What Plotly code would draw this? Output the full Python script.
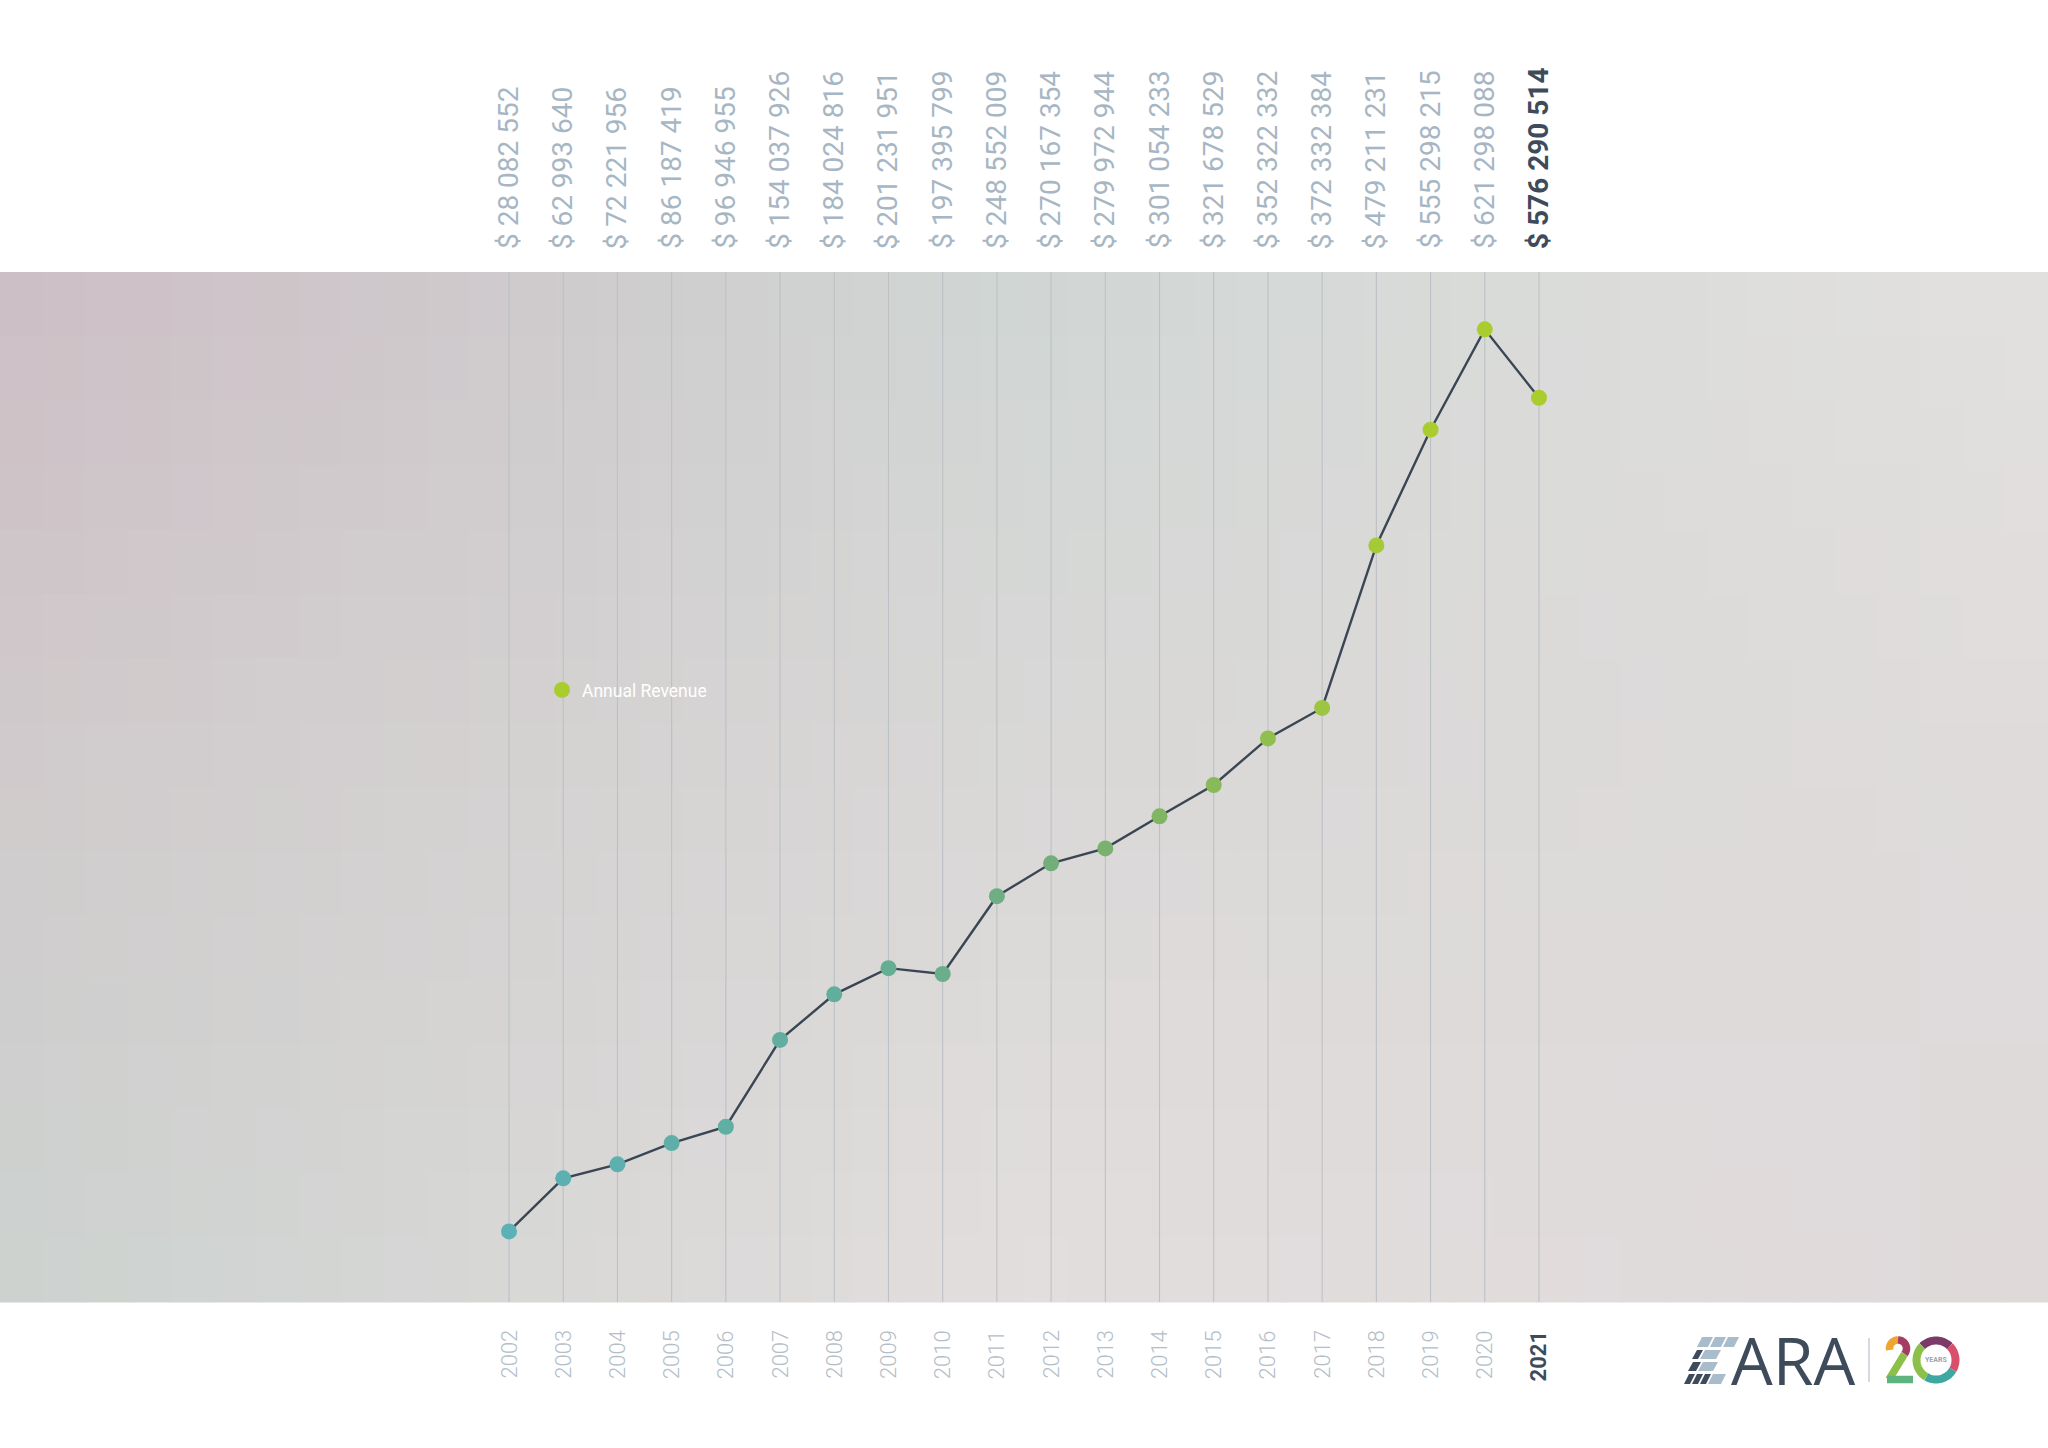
import math
import plotly.graph_objects as go

# ---------------- data ----------------
years = [2002, 2003, 2004, 2005, 2006, 2007, 2008, 2009, 2010, 2011,
         2012, 2013, 2014, 2015, 2016, 2017, 2018, 2019, 2020, 2021]
revenue = [28082552, 62993640, 72221956, 86187419, 96946955, 154037926,
           184024816, 201231951, 197395799, 248552009, 270167354, 279972944,
           301054233, 321678529, 352322332, 372332384, 479211231, 555298215,
           621298088, 576290514]
value_labels = ["$ 28 082 552", "$ 62 993 640", "$ 72 221 956", "$ 86 187 419",
                "$ 96 946 955", "$ 154 037 926", "$ 184 024 816", "$ 201 231 951",
                "$ 197 395 799", "$ 248 552 009", "$ 270 167 354", "$ 279 972 944",
                "$ 301 054 233", "$ 321 678 529", "$ 352 322 332", "$ 372 332 384",
                "$ 479 211 231", "$ 555 298 215", "$ 621 298 088", "$ 576 290 514"]
series_name = "Annual Revenue"
highlight_year = 2021

# ---------------- geometry helpers ----------------
W, H = 2048, 1448
PT, PB = 272, 1302          # plot area top/bottom in px
PH = PB - PT

def px(x):
    return x / W

def py(y):
    return (PB - y) / PH

def hex2rgb(h):
    h = h.lstrip('#')
    return [int(h[i:i + 2], 16) for i in (0, 2, 4)]

def lerp(a, b, t):
    return [a[i] + (b[i] - a[i]) * t for i in range(3)]

shapes = []

# background gradient (2D, bilinear between control colours)
ctrl = [
    ["#cdbec5", "#d0d6d4", "#e3e1df"],   # top
    ["#d0cbcc", "#d9d8d7", "#dfdbdb"],   # middle
    ["#ccd2cf", "#e3dede", "#dfd9da"],   # bottom
]
ctrl = [[hex2rgb(c) for c in row] for row in ctrl]

def colour_at(u, v):
    def row_col(row, u):
        if u <= 0.5:
            return lerp(row[0], row[1], u / 0.5)
        return lerp(row[1], row[2], (u - 0.5) / 0.5)
    top = row_col(ctrl[0], u)
    mid = row_col(ctrl[1], u)
    bot = row_col(ctrl[2], u)
    if v <= 0.5:
        c = lerp(top, mid, v / 0.5)
    else:
        c = lerp(mid, bot, (v - 0.5) / 0.5)
    return "rgb(%d,%d,%d)" % tuple(int(round(k)) for k in c)

NC, NR = 48, 16
for i in range(NC):
    for j in range(NR):
        u = (i + 0.5) / NC
        v = (j + 0.5) / NR
        shapes.append(dict(type="rect", xref="paper", yref="paper",
                           x0=i / NC, x1=(i + 1) / NC + 0.0005,
                           y0=1 - (j + 1) / NR - 0.0005, y1=1 - j / NR,
                           fillcolor=colour_at(u, v), line=dict(width=0),
                           layer="below"))

# vertical year lines
for yr in years:
    shapes.append(dict(type="line", xref="x", yref="paper", x0=yr, x1=yr,
                       y0=0, y1=1, line=dict(color="#bcc1c5", width=1.1),
                       layer="below"))

# ---------------- logo ----------------
LIGHT = "#a9bccb"
DARK = "#3d4b5b"

def para(xl, xr, yt, yb, slant, colour):
    pts = [(xl, yb), (xr, yb), (xr + slant, yt), (xl + slant, yt)]
    d = "M " + " L ".join("%.5f,%.5f" % (px(a), py(b)) for a, b in pts) + " Z"
    shapes.append(dict(type="path", xref="paper", yref="paper", path=d,
                       fillcolor=colour, line=dict(width=0)))

rows = [
    (1337, 1347, [(1697, 1708, LIGHT), (1710, 1721, LIGHT), (1723, 1734, LIGHT)]),
    (1350, 1359, [(1692, 1698, DARK), (1700, 1716, LIGHT)]),
    (1362, 1371, [(1688, 1696, DARK), (1698, 1713, LIGHT)]),
    (1374, 1384, [(1684, 1690, DARK), (1692, 1698, DARK), (1700, 1706, DARK), (1708, 1721, LIGHT)]),
]
for yt, yb, blocks in rows:
    for xl, xr, col in blocks:
        para(xl, xr, yt, yb, 5, col)

# separator
shapes.append(dict(type="line", xref="paper", yref="paper",
                   x0=px(1869), x1=px(1869), y0=py(1338), y1=py(1382),
                   line=dict(color="#c9ced3", width=1.5)))

def arc_path(cx, cy, r, a0, a1, n=24):
    pts = []
    for k in range(n + 1):
        a = math.radians(a0 + (a1 - a0) * k / n)
        pts.append((cx + r * math.cos(a), cy - r * math.sin(a)))
    return pts

def stroke(pts, colour, width):
    d = "M " + " L ".join("%.5f,%.5f" % (px(a), py(b)) for a, b in pts)
    shapes.append(dict(type="path", xref="paper", yref="paper", path=d,
                       line=dict(color=colour, width=width)))

# "0" ring
ring = [(45, 135, "#7b3a68"), (-30, 45, "#d9506a"), (-120, -30, "#3fa7a2"), (135, 240, "#8cc04a")]
for a0, a1, col in ring:
    stroke(arc_path(1936, 1360, 19.5, a0, a1), col, 8)
# "2"
stroke(arc_path(1898, 1348.5, 8.5, 190, 90), "#f0a531", 7.5)
stroke(arc_path(1898, 1348.5, 8.5, 90, -40), "#a33d63", 7.5)
stroke([(1904.5, 1354), (1889, 1379.5)], "#8cc04a", 7.5)
stroke([(1887, 1379.5), (1913, 1379.5)], "#5fb37f", 7.5)

# ---------------- annotations ----------------
annotations = []
for yr, lab in zip(years, value_labels):
    hl = yr == highlight_year
    annotations.append(dict(
        x=yr, xref="x", y=py(251), yref="paper", text=lab, showarrow=False,
        textangle=-90, xanchor="center", yanchor="bottom",
        font=dict(family="Roboto", size=28, color=DARK if hl else "#a7b6c3",
                  weight=700 if hl else 400)))
    annotations.append(dict(
        x=yr, xref="x", y=py(1328), yref="paper", text=str(yr), showarrow=False,
        textangle=-90, xanchor="center", yanchor="top",
        font=dict(family="Roboto", size=22, color=DARK if hl else "#b3bec7",
                  weight=700 if hl else 300)))

annotations.append(dict(x=px(1793), y=py(1359), xref="paper", yref="paper",
                        text="ARA", showarrow=False, xanchor="center", yanchor="middle",
                        font=dict(family="Open Sans", size=66, color=DARK, weight=500)))
annotations.append(dict(x=px(1936), y=py(1360), xref="paper", yref="paper",
                        text="YEARS", showarrow=False, xanchor="center", yanchor="middle",
                        font=dict(family="Roboto", size=7, color="#9aa3ab", weight=700)))

# ---------------- traces ----------------
fig = go.Figure()
fig.add_trace(go.Scatter(
    x=years, y=revenue, mode="lines+markers", name=series_name, showlegend=False,
    line=dict(color="#3a4653", width=2.4),
    marker=dict(size=16, color=years, cmin=2002, cmax=2019,
                colorscale=[[0, "#5bb1b5"], [0.35, "#62ae9c"], [0.6, "#74ad78"],
                            [0.8, "#8dbd52"], [0.92, "#a3c93a"], [1, "#a9cc2f"]],
                line=dict(width=0)),
    hoverinfo="skip"))
fig.add_trace(go.Scatter(
    x=[None], y=[None], mode="markers", name=series_name, showlegend=True,
    marker=dict(size=16, color="#a9cc2f")))

fig.update_layout(
    width=W, height=H,
    margin=dict(l=0, r=0, t=PT, b=H - PB, pad=0),
    paper_bgcolor="white", plot_bgcolor="#d6d4d3",
    xaxis=dict(range=[1992.61, 2030.39], showgrid=False, zeroline=False,
               showticklabels=False, showline=False, fixedrange=True),
    yaxis=dict(range=[-18.3e6, 659e6], showgrid=False, zeroline=False,
               showticklabels=False, showline=False, fixedrange=True),
    legend=dict(x=px(542), y=py(690), xanchor="left", yanchor="middle",
                bgcolor="rgba(0,0,0,0)", borderwidth=0,
                font=dict(family="Roboto", size=17.5, color="white")),
    shapes=shapes, annotations=annotations,
    showlegend=True,
)

fig.write_html("out.html", config={"displayModeBar": False},
               post_script="document.body.style.margin='0';document.body.style.overflow='hidden';")
